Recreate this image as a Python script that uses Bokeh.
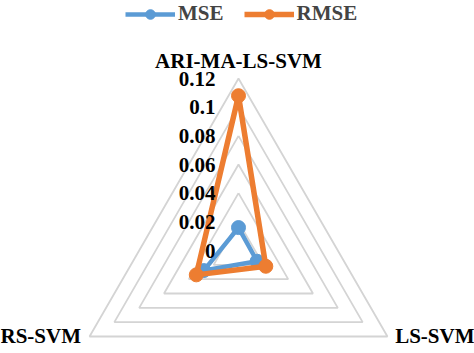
import math
from bokeh.plotting import figure
from bokeh.models import Range1d, Legend, LegendItem, ColumnDataSource
from bokeh.core.properties import value
from bokeh.embed import file_html
from bokeh.resources import INLINE

categories = ["ARI-MA-LS-SVM", "LS-SVM", "RS-SVM"]
mse = [0.016, 0.015, 0.028]
rmse = [0.108, 0.022, 0.034]
tick_values = [0, 0.02, 0.04, 0.06, 0.08, 0.1, 0.12]
tick_labels = ["0", "0.02", "0.04", "0.06", "0.08", "0.1", "0.12"]
series_names = ["MSE", "RMSE"]
series_colors = ["#5B9BD5", "#ED7D31"]

W, H = 474, 353
CX, CY = 238, 250          # screen position of radar centre
PX_PER_UNIT = 172 / 0.12   # radius in px for value 0.12
FONT = value("Liberation Serif")

angles = [90, -30, 210]

def polar(v, ang):
    r = v * PX_PER_UNIT
    return r * math.cos(math.radians(ang)), r * math.sin(math.radians(ang))

p = figure(width=W, height=H, output_backend="svg", toolbar_location=None,
           x_range=Range1d(-CX, W - CX), y_range=Range1d(-(H - CY), CY),
           min_border=0)
p.axis.visible = False
p.grid.visible = False
p.outline_line_color = None
p.background_fill_color = "white"

# grid triangles
gx, gy = [], []
for t in tick_values[1:]:
    pts = [polar(t, a) for a in angles]
    pts.append(pts[0])
    gx.append([q[0] for q in pts])
    gy.append([q[1] for q in pts])
p.multi_line(gx, gy, line_color="#d4d4d4", line_width=1.8)

# series
items = []
for name, vals, col, lw in zip(series_names, [mse, rmse], series_colors, [4.5, 5.5]):
    pts = [polar(v, a) for v, a in zip(vals, angles)]
    xs = [q[0] for q in pts] + [pts[0][0]]
    ys = [q[1] for q in pts] + [pts[0][1]]
    lr = p.line(xs, ys, line_color=col, line_width=lw, line_join="round")
    sr = p.scatter([q[0] for q in pts], [q[1] for q in pts], size=14,
                   fill_color=col, line_color=col)
    items.append(LegendItem(label=name, renderers=[lr, sr]))

# tick labels
src = ColumnDataSource(dict(x=[-23] * len(tick_values),
                            y=[t * PX_PER_UNIT for t in tick_values],
                            t=tick_labels))
p.text(x="x", y="y", text="t", source=src, text_font=FONT, text_font_style="bold",
       text_font_size="21px", text_align="right", text_baseline="middle",
       text_color="black")

# category labels
p.text(x=[0], y=[CY - 60], text=[categories[0]], text_font=FONT, text_font_style="bold",
       text_font_size="21px", text_align="center", text_baseline="middle", text_color="black")
p.text(x=[W - CX], y=[CY - 335], text=[categories[1]], text_font=FONT, text_font_style="bold",
       text_font_size="21px", text_align="right", text_baseline="middle", text_color="black")
p.text(x=[-CX], y=[CY - 335], text=[categories[2]], text_font=FONT, text_font_style="bold",
       text_font_size="21px", text_align="left", text_baseline="middle", text_color="black")

legend = Legend(items=items, orientation="horizontal", location=(125, H - 26),
                glyph_width=50, glyph_height=24, label_text_font="Liberation Serif",
                label_text_font_style="bold", label_text_font_size="21px",
                padding=0, margin=0, spacing=20, label_standoff=3,
                border_line_color=None, background_fill_alpha=0)
p.add_layout(legend)

open("out.html", "w").write(file_html(p, INLINE))
